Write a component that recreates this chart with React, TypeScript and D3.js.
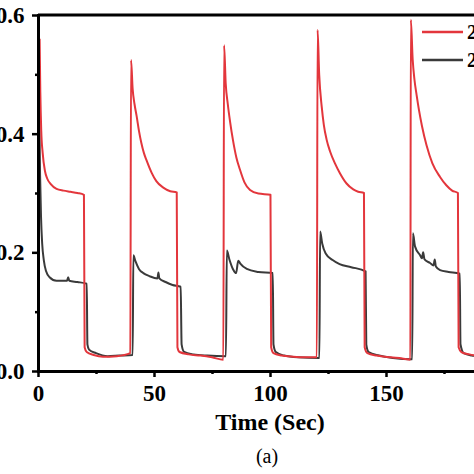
import { useEffect, useRef } from 'react';
import * as d3 from 'd3';

type Pt = [number, number];

// response curves: [time (s), signal]
const redSeries: Pt[] = [
  [0.7, 0.56], [1.0, 0.47], [1.4, 0.405], [2, 0.368], [3, 0.337], [4, 0.324], [5.5, 0.315], [8, 0.307], [11, 0.304],
  [14, 0.302], [17, 0.3], [19.8, 0.297], [20.1, 0.04], [21, 0.032], [24, 0.027], [28, 0.024], [34, 0.025], [39.8, 0.03],
  [40.1, 0.524], [40.8, 0.475], [41.6, 0.45], [42.5, 0.43], [43.5, 0.405], [44.5, 0.385], [45.6, 0.368], [46.8, 0.355],
  [49, 0.334], [51, 0.32], [54, 0.309], [57, 0.303], [59.8, 0.301], [60.1, 0.04], [61, 0.032], [65, 0.028], [70, 0.026],
  [75, 0.023], [79.9, 0.019],
  [80.2, 0.549], [80.9, 0.485], [81.8, 0.45], [82.8, 0.42], [84, 0.39], [85.5, 0.36], [87, 0.34], [89, 0.318],
  [91.4, 0.305], [95, 0.299], [100.2, 0.297], [100.5, 0.04], [101.5, 0.03], [105, 0.026], [110, 0.024], [115, 0.023],
  [120.2, 0.023],
  [120.5, 0.575], [121.2, 0.5], [122.3, 0.445], [123.2, 0.415], [124.4, 0.39], [125.9, 0.37], [128, 0.35], [130.2, 0.333],
  [133, 0.316], [135.9, 0.306], [138, 0.302], [140.5, 0.3], [140.8, 0.04], [142, 0.03], [146, 0.026], [152, 0.023],
  [157, 0.021], [160.5, 0.019],
  [160.7, 0.592], [161.5, 0.525], [162.3, 0.49], [163.2, 0.465], [164.2, 0.44], [165.5, 0.413], [167.5, 0.38], [170, 0.35],
  [173.3, 0.327], [176, 0.313], [178.5, 0.304], [181, 0.3], [181.3, 0.04], [182.5, 0.032], [186, 0.028], [190, 0.025],
];

const blackSeries: Pt[] = [
  [0.6, 0.42], [0.9, 0.33], [1.3, 0.26], [1.8, 0.215], [2.5, 0.187], [3.5, 0.168], [5, 0.158], [8, 0.152], [11, 0.152],
  [12.5, 0.152], [13, 0.158], [13.5, 0.152], [17, 0.15], [21, 0.147], [21.3, 0.045], [22, 0.036], [25, 0.03], [30, 0.025],
  [35, 0.026], [40.8, 0.027],
  [41.1, 0.195], [42, 0.185], [43.5, 0.172], [45.4, 0.165], [48, 0.16], [51.5, 0.156], [51.9, 0.166], [52.3, 0.156],
  [55, 0.15], [58, 0.145], [61.5, 0.142], [61.9, 0.045], [63, 0.032], [67, 0.028], [73, 0.026], [81, 0.025],
  [81.4, 0.203], [82.5, 0.188], [84, 0.172], [85.4, 0.165], [86.3, 0.186], [87.2, 0.181], [90, 0.172], [95, 0.167],
  [101.2, 0.165], [101.5, 0.045], [102.5, 0.032], [106, 0.026], [112, 0.023], [121.3, 0.022],
  [121.6, 0.235], [122.5, 0.215], [124, 0.198], [127, 0.187], [130, 0.18], [135, 0.175], [141.2, 0.168], [141.5, 0.045],
  [142.5, 0.032], [147, 0.026], [153, 0.022], [161.3, 0.02],
  [161.6, 0.232], [162.5, 0.21], [164.7, 0.195], [165.5, 0.19], [166, 0.2], [166.6, 0.188], [169, 0.182], [170.5, 0.178],
  [171, 0.188], [171.5, 0.176], [173.3, 0.17], [177, 0.167], [181.8, 0.164], [182.1, 0.045], [183.5, 0.03], [187, 0.026], [190, 0.025],
];

const xMajor = [0, 50, 100, 150, 200];
const xMinor = [25, 75, 125, 175];
const yMajor = [0, 0.2, 0.4, 0.6];
const yMinor = [0.1, 0.3, 0.5];
const legendLabels = ['200 ppm', '250 ppm'];

const RED = '#e3363c';
const DARK = '#3a3a3a';
const FONT = '"Liberation Serif", "Times New Roman", serif';

export default function App() {
  const svgRef = useRef<SVGSVGElement>(null);

  useEffect(() => {
    if (!svgRef.current) return;
    const svg = d3.select(svgRef.current);
    svg.selectAll('*').remove();

    const x = d3.scaleLinear().domain([0, 200]).range([38, 502]);
    const y = d3.scaleLinear().domain([0, 0.6]).range([371, 15]);

    const line = d3.line<Pt>()
      .x(d => x(d[0]))
      .y(d => y(d[1]))
      .curve(d3.curveMonotoneX);

    // data
    svg.append('path').datum(blackSeries)
      .attr('fill', 'none').attr('stroke', DARK).attr('stroke-width', 2)
      .attr('stroke-linejoin', 'round').attr('d', line);
    svg.append('path').datum(redSeries)
      .attr('fill', 'none').attr('stroke', RED).attr('stroke-width', 2)
      .attr('stroke-linejoin', 'round').attr('d', line);

    // frame
    svg.append('line')
      .attr('x1', x(0)).attr('x2', x(200)).attr('y1', y(0.6)).attr('y2', y(0.6))
      .attr('stroke', '#000').attr('stroke-width', 3);

    // x axis
    const gx = svg.append('g').attr('transform', `translate(0,${y(0)})`);
    gx.call(d3.axisBottom(x).tickValues(xMajor).tickSize(6).tickSizeOuter(0).tickFormat(d3.format('d')));
    gx.append('g').call(d3.axisBottom(x).tickValues(xMinor).tickSize(3).tickFormat(() => ''))
      .select('.domain').remove();

    // y axis
    const gy = svg.append('g').attr('transform', `translate(${x(0)},0)`);
    gy.call(d3.axisLeft(y).tickValues(yMajor).tickSize(6).tickSizeOuter(0).tickFormat(d3.format('.1f')));
    gy.append('g').call(d3.axisLeft(y).tickValues(yMinor).tickSize(3).tickFormat(() => ''))
      .select('.domain').remove();

    svg.selectAll('.domain').attr('stroke-width', 3).attr('stroke-linecap', 'square');
    svg.selectAll('.tick line').attr('stroke-width', 2.5);
    svg.selectAll('.tick text')
      .attr('font-family', FONT).attr('font-weight', 'bold').attr('font-size', 23).attr('fill', '#000');
    gx.selectAll('.tick text').attr('dy', '0.92em');
    gy.selectAll('.tick text').attr('dx', '-0.2em').attr('dy', '0.33em');

    // titles
    svg.append('text')
      .attr('x', x(100)).attr('y', 430).attr('text-anchor', 'middle')
      .attr('font-family', FONT).attr('font-weight', 'bold').attr('font-size', 24)
      .text('Time (Sec)');
    svg.append('text')
      .attr('x', 267).attr('y', 463).attr('text-anchor', 'middle')
      .attr('font-family', FONT).attr('font-size', 20)
      .text('(a)');

    // legend
    const legend = svg.append('g').attr('transform', 'translate(422,32)');
    [RED, DARK].forEach((c, i) => {
      legend.append('line')
        .attr('x1', 0).attr('x2', 41).attr('y1', i * 28).attr('y2', i * 28)
        .attr('stroke', c).attr('stroke-width', 2.5);
      legend.append('text')
        .attr('x', 45).attr('y', i * 28).attr('dy', '0.35em')
        .attr('font-family', FONT).attr('font-weight', 'bold').attr('font-size', 20)
        .text(legendLabels[i]);
    });
  }, []);

  return (
    <svg
      ref={svgRef}
      width={474}
      height={474}
      style={{ position: 'absolute', left: 0, top: 0, background: '#fff' }}
    />
  );
}
